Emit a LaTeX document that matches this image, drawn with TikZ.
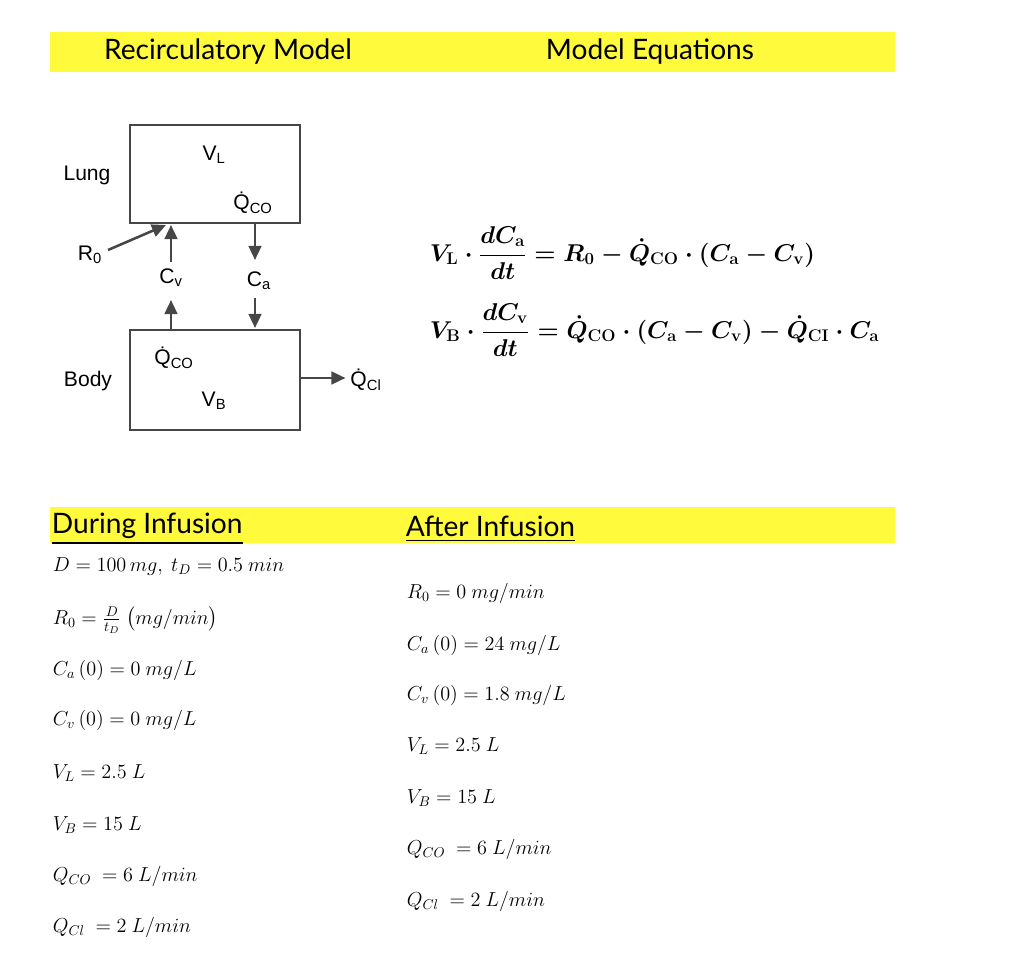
\documentclass[tikz,border=0pt]{standalone}
\usepackage{amsmath}
\usepackage[no-math]{fontspec}
\setmainfont{Lato}
\newfontfamily\diag{Liberation Sans}
\usetikzlibrary{arrows.meta}
\definecolor{hl}{RGB}{255,250,60}
\definecolor{ar}{RGB}{70,70,70}
\newcommand{\qd}[1]{\.{Q}\textsubscript{#1}}
\begin{document}
\begin{tikzpicture}[x=0.025cm,y=-0.025cm,
  box/.style={draw=ar,line width=1.3pt},
  flow/.style={draw=ar,line width=1.8pt,-{Triangle[length=10pt,width=9pt]}},
  dl/.style={font=\diag\fontsize{15}{17}\selectfont},
  hd/.style={font=\fontsize{20}{24}\selectfont},
  mt/.style={anchor=west,font=\fontsize{14}{16}\selectfont},
  eq/.style={anchor=west,font=\fontsize{18}{22}\selectfont\boldmath}]
\useasboundingbox (0,0) rectangle (1024,959);
\fill[hl] (50,32) rectangle (895,72);
\fill[hl] (50,507) rectangle (895,543);
\node[hd] (h1) at (228,52) {Recirculatory Model};
\node[hd] (h2) at (650,52) {Model Equations};
\node[hd,anchor=west] (h3) at (47,529) {\underline{During Infusion}};
\node[hd,anchor=west] (h4) at (401,529) {\underline{After Infusion}};
% diagram
\draw[box] (130,125) rectangle (300,223);
\draw[box] (130,330) rectangle (300,430);
\coordinate (lv) at (171,225); \coordinate (bv) at (171,330);
\coordinate (la) at (255,223); \coordinate (ba) at (255,328);
\coordinate (cvb) at (171,300); \coordinate (cvt) at (171,262);
\coordinate (cat) at (255,260); \coordinate (cab) at (255,298);
\node[dl] (cv) at (171,278) {C\textsubscript{v}};
\node[dl] (ca) at (259,281) {C\textsubscript{a}};
\draw[flow] (bv) -- (cvb);
\draw[flow] (cvt) -- (lv);
\draw[flow] (la) -- (cat);
\draw[flow] (cab) -- (ba);
\node[dl] (r0) at (90,255) {R\textsubscript{0}};
\coordinate (r0s) at (108,250);
\coordinate (r0e) at (166,225);
\draw[flow] (r0s) -- (r0e);
\node[dl] (lung) at (87,175) {Lung};
\node[dl] (body) at (88,381) {Body};
\node[dl] (vl) at (214,155) {V\textsubscript{L}};
\node[dl] (q1) at (253,203) {\qd{CO}};
\node[dl] (q2) at (174,358) {\qd{CO}};
\node[dl] (vb) at (214,401) {V\textsubscript{B}};
\node[dl] (qcl) at (366,380) {\qd{Cl}};
\coordinate (bo) at (300,378);
\draw[flow] (bo) -- (bo -| qcl.west);
% equations
\node[eq] (e1) at (425,253)
 {$V_{\mathbf{L}}\cdot\dfrac{dC_{\mathbf{a}}}{dt}=R_0-\dot{Q}_{\mathbf{CO}}\cdot(C_{\mathbf{a}}-C_{\mathbf{v}})$};
\node[eq] (e2) at (425,330)
 {$V_{\mathbf{B}}\cdot\dfrac{dC_{\mathbf{v}}}{dt}=\dot{Q}_{\mathbf{CO}}\cdot(C_{\mathbf{a}}-C_{\mathbf{v}})-\dot{Q}_{\mathbf{CI}}\cdot C_{\mathbf{a}}$};
% left list
\node[mt] (l1) at (48,567) {$D=100\,mg,\ t_D=0.5\ min$};
\node[mt] (l2) at (48,620) {$R_0=\frac{D}{t_D}\ \big(mg/min\big)$};
\node[mt] (l3) at (48,670) {$C_a\,(0)=0\ mg/L$};
\node[mt] (l4) at (48,720) {$C_v\,(0)=0\ mg/L$};
\node[mt] (l5) at (48,773) {$V_L=2.5\ L$};
\node[mt] (l6) at (48,825) {$V_B=15\ L$};
\node[mt] (l7) at (48,876) {$Q_{CO}\ =6\ L/min$};
\node[mt] (l8) at (48,927) {$Q_{Cl}\ =2\ L/min$};
% right list
\node[mt] (r1) at (402,593) {$R_0=0\ mg/min$};
\node[mt] (r2) at (402,645) {$C_a\,(0)=24\ mg/L$};
\node[mt] (r3) at (402,695) {$C_v\,(0)=1.8\ mg/L$};
\node[mt] (r4) at (402,746) {$V_L=2.5\ L$};
\node[mt] (r5) at (402,798) {$V_B=15\ L$};
\node[mt] (r6) at (402,849) {$Q_{CO}\ =6\ L/min$};
\node[mt] (r7) at (402,901) {$Q_{Cl}\ =2\ L/min$};
\end{tikzpicture}
\end{document}
